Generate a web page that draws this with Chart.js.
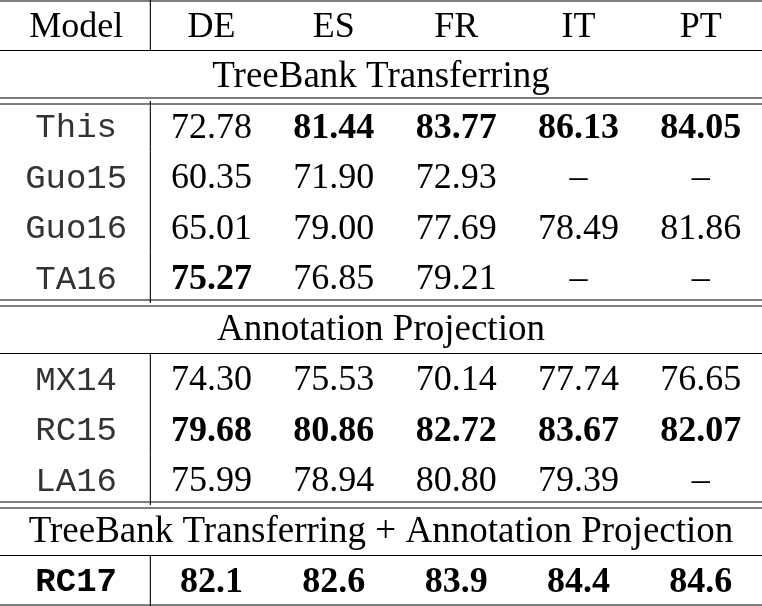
<!DOCTYPE html>
<html><head><meta charset="utf-8">
<script src="https://cdn.jsdelivr.net/npm/chart.js@4"></script>
<style>html,body{margin:0;padding:0;background:#fff}#w{width:762px;height:606px}</style>
</head><body><div id="w"><canvas id="c"></canvas></div>
<script>
const columns = ['Model','DE','ES','FR','IT','PT'];
const rowKeys = ['hdr','sec1','This','Guo15','Guo16','TA16','sec2','MX14','RC15','LA16','sec3','RC17'];
const sections = {sec1:'TreeBank Transferring', sec2:'Annotation Projection', sec3:'TreeBank Transferring + Annotation Projection'};
const This  = ['72.78','81.44','83.77','86.13','84.05'];
const Guo15 = ['60.35','71.90','72.93','–','–'];
const Guo16 = ['65.01','79.00','77.69','78.49','81.86'];
const TA16  = ['75.27','76.85','79.21','–','–'];
const MX14  = ['74.30','75.53','70.14','77.74','76.65'];
const RC15  = ['79.68','80.86','82.72','83.67','82.07'];
const LA16  = ['75.99','78.94','80.80','79.39','–'];
const RC17  = ['82.1','82.6','83.9','84.4','84.6'];
const values = {This, Guo15, Guo16, TA16, MX14, RC15, LA16, RC17};
const boldCells = {This:[1,2,3,4], TA16:[0], RC15:[0,1,2,3,4], RC17:[0,1,2,3,4]};
const ruleAfter = {hdr:'single', sec1:'double', TA16:'double', sec2:'single', LA16:'double', sec3:'single'};

const points = [];
rowKeys.forEach(r => { if (values[r]) values[r].forEach((v,i)=>points.push({x:columns[i+1], y:r})); });

const serif = '"Liberation Serif", "DejaVu Serif", serif';
const mono = '"Liberation Mono", "DejaVu Sans Mono", monospace';

const tablePlugin = {
  id:'table',
  afterDraw(chart){
    const ctx = chart.ctx, xs = chart.scales.x, ys = chart.scales.y, a = chart.chartArea;
    const rowH = ys.getPixelForValue(1) - ys.getPixelForValue(0);
    const colW = xs.getPixelForValue(1) - xs.getPixelForValue(0);
    const L = 0, R = chart.width;
    ctx.save();
    ctx.fillStyle = '#000'; ctx.strokeStyle = '#000'; ctx.textBaseline = 'middle'; ctx.textAlign = 'center';
    const hline = (y, w) => { ctx.lineWidth = w; ctx.beginPath(); ctx.moveTo(L, y); ctx.lineTo(R, y); ctx.stroke(); };
    hline(a.top + 1, 1.2);
    hline(a.bottom - 1, 1.2);
    const vx = xs.getPixelForValue(0) + colW/2;
    rowKeys.forEach((r, ri) => {
      const yc = ys.getPixelForValue(ri);
      const yb = yc + rowH/2;
      if (ruleAfter[r] === 'single') hline(yb, 1.1);
      if (ruleAfter[r] === 'double') { hline(yb - 3, 1.1); hline(yb + 3, 1.1); }
      if (sections[r]) {
        ctx.font = '37px ' + serif;
        ctx.fillText(sections[r], chart.width/2, yc + 2);
        return;
      }
      ctx.lineWidth = 1.1;
      ctx.beginPath(); ctx.moveTo(vx, yc - rowH/2); ctx.lineTo(vx, yb); ctx.stroke();
      if (r === 'hdr') {
        ctx.font = '36px ' + serif;
        columns.forEach((c, ci) => ctx.fillText(c, xs.getPixelForValue(ci) - (ci===0?13:0), yc + 2));
        return;
      }
      ctx.fillStyle = r === 'RC17' ? '#000' : '#333';
      ctx.font = (r === 'RC17' ? 'bold ' : '') + '34px ' + mono;
      ctx.fillText(r, xs.getPixelForValue(0) - 13, yc + 2);
      ctx.fillStyle = '#000';
      values[r].forEach((v, i) => {
        const b = (boldCells[r] || []).includes(i);
        ctx.font = (b ? 'bold ' : '') + '36px ' + serif;
        ctx.fillText(v, xs.getPixelForValue(i+1), yc + 2);
      });
    });
    ctx.restore();
  }
};

new Chart(document.getElementById('c'), {
  type:'scatter',
  data:{ datasets:[{ data: points, pointRadius:0 }] },
  options:{
    responsive:true, maintainAspectRatio:false, animation:false,
    layout:{ padding:{ left:28, right:0, top:0, bottom:0 } },
    plugins:{ legend:{display:false}, tooltip:{enabled:false} },
    scales:{
      x:{ type:'category', labels: columns, offset:true, display:false },
      y:{ type:'category', labels: rowKeys, offset:true, display:false }
    }
  },
  plugins:[tablePlugin]
});
</script></body></html>
